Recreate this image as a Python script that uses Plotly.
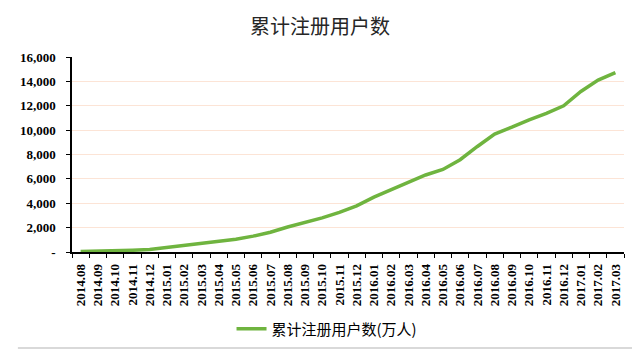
import plotly.graph_objects as go

months = ["2014.08", "2014.09", "2014.10", "2014.11", "2014.12",
          "2015.01", "2015.02", "2015.03", "2015.04", "2015.05", "2015.06",
          "2015.07", "2015.08", "2015.09", "2015.10", "2015.11", "2015.12",
          "2016.01", "2016.02", "2016.03", "2016.04", "2016.05", "2016.06",
          "2016.07", "2016.08", "2016.09", "2016.10", "2016.11", "2016.12",
          "2017.01", "2017.02", "2017.03"]
users = [40, 60, 90, 140, 200,
         370, 580, 770, 880, 1040, 1300,
         1620, 2050, 2420, 2800, 3250, 3780,
         4500, 5120, 5730, 6320, 6770, 7570,
         8660, 9680, 10240, 10850, 11380, 12000,
         13170, 14100, 14720]
y_tickvals = [0, 2000, 4000, 6000, 8000, 10000, 12000, 14000, 16000]
y_ticktext = ["-", "2,000", "4,000", "6,000", "8,000", "10,000", "12,000", "14,000", "16,000"]

title_text = "累计注册用户数"
series_name = "累计注册用户数(万人)"

fig = go.Figure()
fig.add_trace(go.Scatter(
    x=months, y=users, mode="lines", name=series_name,
    line=dict(color="#6fb43f", width=3.5),
    showlegend=True,
))

tick_font = dict(family="Liberation Serif", size=13, color="#000000", weight="bold")
cjk = "Noto Sans CJK SC"

# the page body adds an 8px offset, so the figure is 8px smaller and margins shifted
W, H = 632, 349
fig.update_layout(
    width=W, height=H,
    margin=dict(l=55, r=16, t=49, b=100),
    paper_bgcolor="white", plot_bgcolor="white",
    title=dict(text=title_text, x=(320 - 8) / W, xanchor="center", y=1 - 19 / H, yanchor="middle",
               font=dict(family=cjk, size=20, color="#262626")),
    showlegend=True,
    legend=dict(orientation="h", x=0.462, xanchor="center", y=-0.395, yanchor="middle",
                font=dict(family=cjk, size=15, color="#000000"),
                bgcolor="rgba(0,0,0,0)"),
    xaxis=dict(type="category", range=[-0.5, len(months) - 0.5],
               showline=True, linecolor="#000000", linewidth=1.5,
               ticks="outside", ticklen=4, tickcolor="#000000", tickson="boundaries",
               tickangle=-90, tickfont=tick_font, showgrid=False, ticklabelstandoff=5),
    yaxis=dict(range=[0, 16000], tickvals=y_tickvals, ticktext=y_ticktext,
               showline=True, linecolor="#000000", linewidth=1.5,
               ticks="outside", ticklen=4, tickcolor="#000000", ticklabelstandoff=8,
               tickfont=tick_font, showgrid=True, gridcolor="#fce4d6", gridwidth=1,
               zeroline=False),
)

# light grey frame on the right and bottom edges of the image
fig.add_shape(type="line", xref="paper", yref="paper",
              x0=576 / 561, x1=576 / 561, y0=-100 / 200, y1=249 / 200,
              line=dict(color="#d9d9d9", width=2))
fig.add_shape(type="line", xref="paper", yref="paper",
              x0=-55 / 561, x1=577 / 561, y0=-98.5 / 200, y1=-98.5 / 200,
              line=dict(color="#d9d9d9", width=2))

fig.write_html("out.html")
